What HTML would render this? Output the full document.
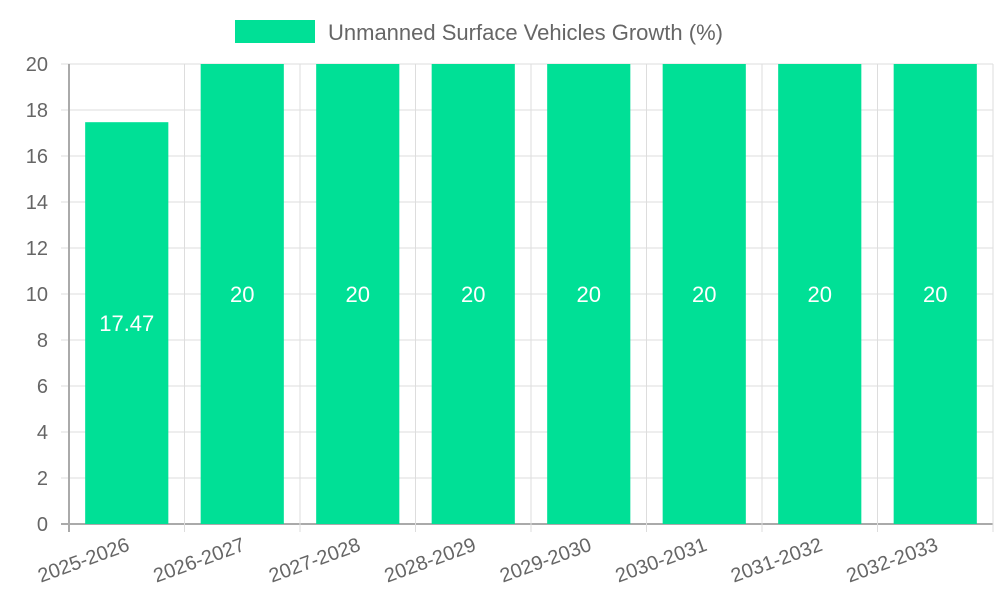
<!DOCTYPE html>
<html><head><meta charset="utf-8"><style>body{margin:0;background:#fff}svg{display:block;font-family:"Liberation Sans",sans-serif}</style></head>
<body>
<svg id="chart" width="1000" height="600" viewBox="0 0 1000 600">
<g>
<rect x="235" y="20" width="80" height="23" fill="#00e096"/>
<text x="328" y="40" font-size="22" fill="#666">Unmanned Surface Vehicles Growth (%)</text>
</g>
<g id="grid"></g><g id="bars"></g><g id="axes"></g>
</svg>
<script>
const categories=["2025-2026","2026-2027","2027-2028","2028-2029","2029-2030","2030-2031","2031-2032","2032-2033"];
const values=[17.47,20,20,20,20,20,20,20];
const yTicks=[0,2,4,6,8,10,12,14,16,18,20];
const L=69,R=993,T=64,B=524,yMax=20;
const ns="http://www.w3.org/2000/svg";
const bw=(R-L)/categories.length;
const y=v=>B-(v/yMax)*(B-T);
const x=i=>L+i*bw;
function mk(p,tag,a){const e=document.createElementNS(ns,tag);for(const k in a)e.setAttribute(k,a[k]);p.appendChild(e);return e;}
const grid=document.getElementById('grid'),bars=document.getElementById('bars'),axes=document.getElementById('axes');
yTicks.forEach(t=>{
 const l=mk(grid,'line',{x1:L-8,x2:R,y1:y(t),y2:y(t),stroke:t===0?'#aaa':'#ddd','stroke-width':t===0?2:1});
 
 const tx=mk(axes,'text',{x:48,y:y(t)+7,'text-anchor':'end','font-size':20,fill:'#666'});tx.textContent=t;
 
});
for(let i=0;i<=categories.length;i++){
 const l=mk(grid,'line',{x1:x(i),x2:x(i),y1:T,y2:B+8,stroke:i===0?'#aaa':'#ddd','stroke-width':i===0?2:1});
 
}
categories.forEach((c,i)=>{
 const w=bw*0.72,cx=x(i)+bw/2;
 const r=mk(bars,'rect',{x:cx-w/2,y:y(values[i]),width:w,height:B-y(values[i]),fill:'#00e096'});
 
 const v=mk(bars,'text',{x:cx,y:(y(values[i])+B)/2+8,'text-anchor':'middle','font-size':22,fill:'#fff'});v.textContent=values[i];
 
 const t=mk(axes,'text',{x:0,y:0,'text-anchor':'end','font-size':20,fill:'#666',transform:`translate(${cx+4},${B+26}) rotate(-20)`});t.textContent=c;
 
});
</script>
</body></html>
